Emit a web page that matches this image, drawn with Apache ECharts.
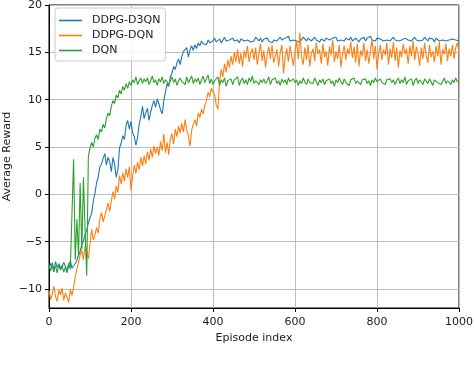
<!DOCTYPE html>
<html>
<head>
<meta charset="utf-8">
<script src="https://cdn.jsdelivr.net/npm/echarts@6/dist/echarts.min.js"></script>
<style>
  html, body { margin: 0; padding: 0; background: #fff; }
  #main { width: 474px; height: 375px; }
</style>
</head>
<body>
<div id="main"></div>
<script>
// episode grid: one point every 4 episodes, 0..1000
var step = 4
var episodes = []
for (var i = 0; i <= 250; i++) episodes.push(i * step)

var seriesNames = ['DDPG-D3QN', 'DDPG-DQN', 'DQN']
var xTicks = [0, 200, 400, 600, 800, 1000]

// DDPG-D3QN
var d3qn = [
  -7.9, -7.3, -7.6, -8.2, -7.1, -7.7, -7.4, -8.0, -7.8, -7.2, -7.6, -8.3, -7.5, -7.0, -7.8,
  -7.7, -7.3, -7.0, -6.4, -6.0, -5.3, -4.9, -4.2, -3.8, -3.0,
  -2.5, -2.0, -0.7, 0.1, 1.2, 1.8, 2.9, 3.2, 3.8, 4.3, 3.1, 3.9, 3.5, 2.4, 3.9, 3.2, 1.8, 2.6,
  4.9, 5.4, 6.2, 5.8, 7.3, 7.8, 6.9, 7.7, 6.5, 6.1, 5.2, 6.0, 7.4, 8.2, 9.3, 8.0, 8.6, 9.1, 7.8, 8.7,
  9.4, 9.9, 9.2, 10.1, 9.6, 8.9, 8.5, 9.9, 10.8, 11.7, 11.4, 12.4,
  12.8, 13.5, 13.2, 13.9, 14.3, 13.7, 14.6, 15.1, 14.9, 15.5, 14.5, 15.3, 15.7,
  15.2, 15.8, 15.4, 16.0, 15.7, 16.2, 15.9, 16.1, 15.8, 16.3, 16.0, 16.2,
  16.2, 16.5, 16.1, 16.3, 16.4, 16.0, 16.3, 16.6, 16.2, 16.4,
  16.3, 16.1, 16.5, 16.2, 16.4, 16.3, 16.0, 16.4, 16.6, 16.2,
  16.4, 16.3, 16.5, 16.1, 16.3, 16.2, 16.6, 16.4, 16.2, 16.5,
  16.1, 16.4, 16.3, 16.5, 16.2, 16.4, 16.0, 16.3, 16.5, 16.2,
  16.4, 16.6, 16.3, 16.2, 16.5, 16.3, 16.7, 16.2, 16.4, 16.3,
  16.5, 16.2, 16.4, 16.1, 16.3, 16.6, 16.4, 16.2, 16.5, 16.3,
  16.2, 16.4, 16.6, 16.3, 16.5, 16.1, 16.4, 16.3, 16.2, 16.5,
  16.4, 16.3, 16.1, 16.5, 16.3, 16.6, 16.2, 16.4, 16.3, 16.5,
  16.2, 16.5, 16.4, 16.3, 16.6, 16.2, 16.4, 16.5, 16.3, 16.1,
  16.4, 16.3, 16.6, 16.2, 16.5, 16.4, 16.7, 16.3, 16.4, 16.2,
  16.5, 16.3, 16.4, 16.6, 16.2, 16.4, 16.3, 16.5, 16.2, 16.4,
  16.6, 16.3, 16.5, 16.2, 16.4, 16.3, 16.1, 16.5, 16.4, 16.3,
  16.5, 16.2, 16.4, 16.6, 16.3, 16.5, 16.2, 16.4, 16.3, 16.6,
  16.4, 16.2, 16.5, 16.3, 16.4, 16.1, 16.5, 16.3, 16.2, 16.4,
  16.3, 16.5, 16.2, 16.4, 16.3, 16.1, 16.4, 16.2, 16.3, 16.5,
  16.2
]

// DDPG-DQN
var ddqn = [
  -10.2, -11.1, -10.5, -9.7, -10.8, -11.3, -10.1, -10.6, -9.9, -11.2, -10.4, -10.9, -11.4, -10.0, -10.7,
  -9.8, -8.7, -7.9, -7.2, -6.4, -5.9, -6.9, -5.5, -6.1, -6.8,
  -5.2, -3.7, -4.8, -4.3, -3.5, -4.1, -2.6, -1.9, -2.9, -3.1, -1.6, -0.9, -1.8,
  -0.7, 0.3, -0.5, 0.9, 0.2, 2.0, 1.1, 2.3, 1.4, 2.7, 1.8, 2.9,
  0.4, 1.9, 3.1, 2.2, 3.4, 2.6, 3.9, 3.0, 4.1, 3.2, 4.5, 3.6, 4.8,
  3.9, 5.1, 4.3, 5.0, 4.1, 5.6, 4.6, 6.4, 4.4, 5.5, 4.2, 5.9,
  6.4, 5.3, 6.9, 6.1, 7.2, 6.5, 7.5, 6.6, 7.9, 6.8, 6.2, 5.1, 6.8,
  7.4, 7.9, 7.2, 8.6, 8.1, 9.0, 8.5, 9.4, 9.9, 10.8, 10.3, 11.2,
  11.4, 10.5, 9.4, 9.0, 11.9, 13.2, 12.4, 13.8, 12.9, 14.2, 13.4, 14.6, 13.7,
  15.0, 14.0, 15.3, 13.8, 14.9, 13.5, 15.2, 14.4, 15.7, 14.0, 14.9, 15.4,
  14.2, 15.5, 13.7, 14.9, 15.9, 14.1, 15.2, 13.4, 14.7, 15.6,
  14.3, 15.8, 13.9, 14.6, 15.3, 13.5, 15.0, 15.8, 12.8, 14.5,
  15.4, 14.0, 15.7, 14.6, 13.6, 15.1, 16.2, 14.3, 17.1, 14.5,
  13.7, 15.5, 14.2, 15.8, 13.5, 14.9, 15.4, 14.1, 16.0, 14.8,
  15.3, 13.8, 15.9, 14.5, 15.1, 13.6, 15.6, 14.7, 16.3, 14.0,
  15.1, 14.3, 15.8, 13.4, 14.9, 15.7, 14.2, 15.4, 14.8, 16.1,
  14.4, 15.6, 13.9, 15.9, 13.5, 15.2, 14.6, 16.0, 14.1, 15.3,
  13.8, 15.1, 16.4, 14.3, 15.7, 13.2, 14.9, 15.8, 14.2, 15.3,
  14.7, 16.0, 13.7, 15.4, 14.4, 16.1, 14.1, 15.5, 13.4, 15.2,
  14.5, 15.9, 14.8, 15.4, 13.8, 15.7, 14.6, 16.2, 14.2, 15.6,
  14.9, 13.6, 15.5, 14.3, 16.0, 14.7, 13.9, 15.8, 14.5, 15.1,
  14.0, 15.7, 14.6, 16.1, 13.7, 15.3, 14.8, 15.9, 14.1, 15.4,
  14.6, 15.8, 14.3, 15.5, 16.0, 15.0
]

// DQN
var dqn = [
  -7.4, -8.1, -7.2, -7.9, -7.6, -8.3, -7.3, -7.8, -7.5, -8.2, -7.7, -8.0, -7.3, -7.9, -8.1,
  3.7, -6.9, -2.6, -6.5, 1.2, -5.8, 1.8, -3.7, -8.6, 4.0,
  4.9, 5.5, 5.0, 5.9, 6.3, 5.8, 6.9, 6.6, 7.4, 7.0, 8.0, 8.6, 8.3,
  9.3, 9.9, 9.6, 10.5, 10.2, 11.0, 10.6, 11.4, 11.0, 11.7, 11.2, 11.9,
  11.5, 12.1, 11.8, 12.4, 11.6, 12.0, 12.3, 11.7, 12.2, 11.9,
  12.3, 11.6, 12.0, 12.5, 11.8, 12.1, 11.5, 12.2, 11.9, 12.4,
  11.7, 12.1, 12.3, 11.6, 12.0, 12.4, 11.8, 12.2, 11.5, 12.0,
  12.3, 11.9, 12.1, 11.6, 12.4, 11.8, 12.0, 12.5, 11.7, 12.2,
  11.9, 12.3, 11.6, 12.1, 12.5, 11.8, 12.0, 12.6, 11.7, 12.2,
  11.6, 12.0, 11.9, 12.4, 11.5, 12.1, 11.8, 12.3, 11.4, 12.0,
  11.8, 12.2, 11.6, 12.1, 11.9, 12.4, 11.5, 12.0, 12.3, 11.7,
  12.1, 11.6, 12.3, 11.9, 12.5, 11.7, 12.0, 12.2, 11.6, 12.1,
  11.8, 12.2, 11.7, 12.0, 12.4, 11.6, 12.1, 11.9, 12.3, 11.7,
  12.0, 11.5, 12.2, 11.8, 12.1, 11.6, 12.3, 11.9, 11.7, 12.2,
  11.8, 12.1, 11.5, 12.0, 11.7, 12.3, 11.9, 11.6, 12.2, 11.8,
  12.0, 11.7, 12.3, 11.9, 11.5, 12.1, 11.8, 12.2, 11.6, 12.0,
  11.9, 12.2, 11.7, 12.0, 11.4, 12.1, 11.8, 12.3, 11.9, 11.6,
  12.2, 11.8, 12.0, 11.5, 12.1, 11.9, 12.3, 11.7, 12.0, 11.8,
  11.6, 12.1, 11.9, 12.2, 11.7, 12.0, 11.5, 12.1, 11.8, 12.3,
  11.9, 11.7, 12.2, 11.8, 12.0, 11.6, 12.1, 11.9, 12.2, 11.8,
  12.1, 11.6, 12.0, 12.3, 11.7, 12.1, 11.8, 12.4, 11.6, 12.0,
  11.8, 12.2, 11.5, 12.0, 12.3, 11.7, 12.1, 11.9, 11.6, 12.2,
  12.0, 11.7, 12.2, 11.9, 11.5, 12.1, 12.3, 11.8, 12.0, 11.6,
  11.9, 12.3, 11.7, 12.0, 12.2, 11.6, 12.1, 11.8, 12.3, 11.9,
  12.0
]

var colors = ['#1f77b4', '#ff7f0e', '#2ca02c']
var FONT = 'DejaVu Sans'
var TXT = '#1a1a1a'

function pairs(vals) {
    return vals.map(function (v, i) { return [episodes[i], v] })
}

function makeSeries(name, vals, color) {
    return {
        type: 'line',
        name: name,
        data: pairs(vals),
        symbol: 'none',
        showSymbol: false,
        color: color,
        lineStyle: { width: 1.1, color: color }
    }
}

var chart = echarts.init(document.getElementById('main'), null, { renderer: 'canvas' })

var option = {
    animation: false,
    backgroundColor: '#fff',
    textStyle: { fontFamily: FONT },
    grid: {
        left: 49, right: 15, top: 5, bottom: 67,
        containLabel: false,
        outerBoundsMode: 'none',
        show: true, borderColor: '#000', borderWidth: 1, backgroundColor: 'transparent'
    },
    legend: {
        orient: 'vertical',
        left: 55, top: 8,
        padding: [7, 5, 5, 4],
        itemWidth: 23, itemHeight: 12, itemGap: 4,
        icon: 'path://M0,0H23V1.6H0Z',
        backgroundColor: 'rgba(255,255,255,0.85)',
        borderColor: '#cccccc', borderWidth: 1, borderRadius: 3,
        data: seriesNames,
        textStyle: { fontFamily: FONT, fontSize: 11, color: TXT, padding: [0, 0, 0, 5] }
    },
    xAxis: {
        type: 'value',
        min: 0, max: 1000, interval: 200,
        name: 'Episode index',
        nameLocation: 'middle',
        nameGap: 25,
        nameMoveOverlap: false,
        nameTextStyle: { fontFamily: FONT, fontSize: 11, color: TXT },
        axisLine: { onZero: false, lineStyle: { color: '#000', width: 1 } },
        axisTick: { show: true, length: 4, lineStyle: { color: '#000' } },
        axisLabel: {
            fontFamily: FONT, fontSize: 11, color: TXT, margin: 9,
            formatter: function (v) { return String(v) }
        },
        splitLine: { show: true, lineStyle: { color: '#bcbcbc', width: 1 } }
    },
    yAxis: {
        type: 'value',
        min: -12, max: 20, splitNumber: 5,
        name: 'Average Reward',
        nameLocation: 'middle',
        nameGap: 36,
        nameMoveOverlap: false,
        nameTextStyle: { fontFamily: FONT, fontSize: 11, color: TXT },
        axisLine: { show: true, onZero: false, lineStyle: { color: '#000', width: 1 } },
        axisTick: { show: true, length: 4, lineStyle: { color: '#000' } },
        axisLabel: {
            fontFamily: FONT, fontSize: 11, color: TXT, margin: 7,
            showMinLabel: false,
            formatter: function (v) {
                if (v % 5 !== 0) return ''
                return v < 0 ? '\u2212' + Math.abs(v) : String(v)
            }
        },
        splitLine: { show: true, lineStyle: { color: '#bcbcbc', width: 1 } }
    },
    series: [
        makeSeries(seriesNames[0], d3qn, colors[0]),
        makeSeries(seriesNames[1], ddqn, colors[1]),
        makeSeries(seriesNames[2], dqn, colors[2])
    ]
}

chart.setOption(option)
</script>
</body>
</html>
